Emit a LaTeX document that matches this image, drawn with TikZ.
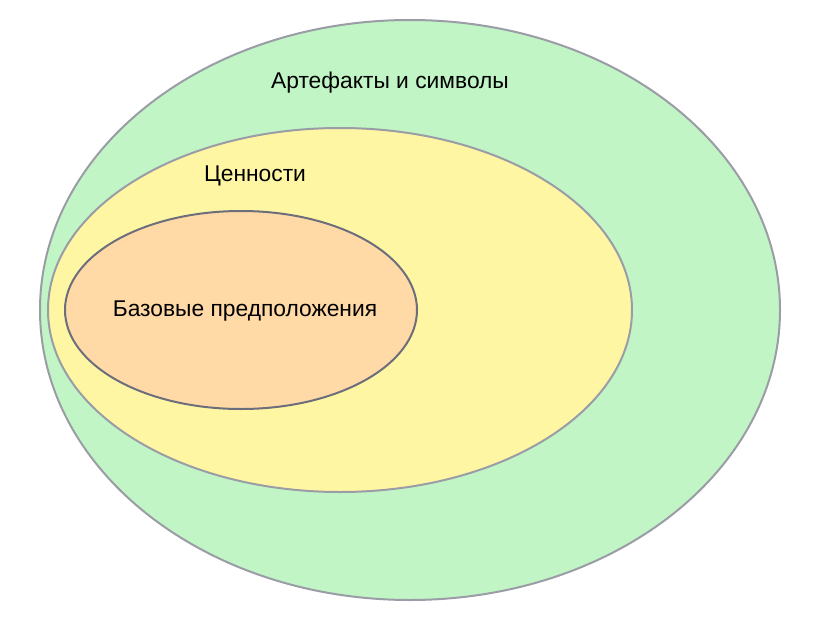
\documentclass[tikz,border=0pt]{standalone}
\usepackage{fontspec}
\setmainfont{Liberation Sans}
\usetikzlibrary{positioning}
\definecolor{artgreen}{HTML}{C2F5C6}
\definecolor{valyellow}{HTML}{FFF6A3}
\definecolor{baseorange}{HTML}{FFDAA6}
\definecolor{rimgray}{HTML}{9A9CA6}
\definecolor{rimdark}{HTML}{6C6E7C}
\tikzset{
layer/.style={
  draw=rimgray,
  line width=2pt
  },
label/.style={
  font=\fontsize{22.8}{27}\selectfont,
  inner sep=0pt
  }
}
\begin{document}
\begin{tikzpicture}[x=1pt,y=-1pt]
\useasboundingbox (0,0) rectangle (819,626);
% the layers
\path[layer,fill=artgreen] (410,310) ellipse [x radius=370,y radius=290];
\path[layer,fill=valyellow] (340,310) ellipse [x radius=292,y radius=182];
\path[layer,draw=rimdark,fill=baseorange] (241,310) ellipse [x radius=176,y radius=99];

% the labels
\node[label] at (390,83) (artefacts) {Артефакты и символы};
\node[label] at (255,176) (values) {Ценности};
\node[label] at (245,311) (basics) {Базовые предположения};
\end{tikzpicture}
\end{document}
